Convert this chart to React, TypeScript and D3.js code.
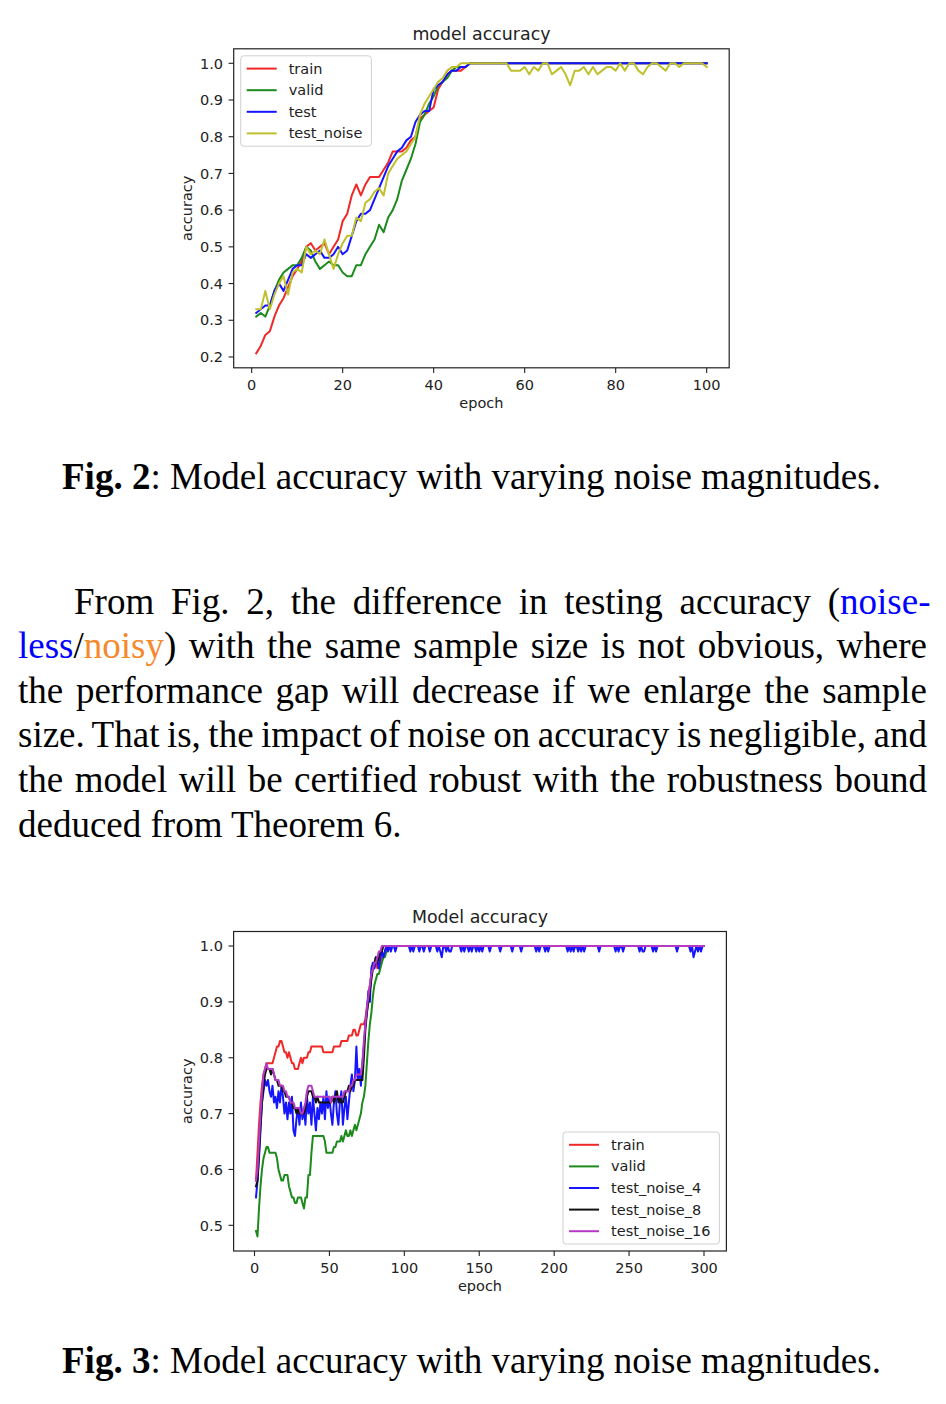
import React, { useRef, useLayoutEffect } from 'react';
import * as d3 from 'd3';

// ── Fig. 2 data: accuracy per epoch (1..100) ─────────────────────────────────
const fig2Train = [
  0.21, 0.23, 0.26, 0.27, 0.31, 0.34, 0.36, 0.39, 0.42, 0.44,
  0.46, 0.50, 0.51, 0.49, 0.50, 0.51, 0.48, 0.50, 0.52, 0.57,
  0.59, 0.64, 0.67, 0.64, 0.67, 0.69, 0.69, 0.69, 0.71, 0.73,
  0.76, 0.76, 0.76, 0.77, 0.79, 0.80, 0.85, 0.86, 0.87, 0.88,
  0.93, 0.95, 0.97, 0.98, 0.98, 0.98, 0.99, 1, 1, 1,
  1, 1, 1, 1, 1, 1, 1, 1, 1, 1,
  1, 1, 1, 1, 1, 1, 1, 1, 1, 1,
  1, 1, 1, 1, 1, 1, 1, 1, 1, 1,
  1, 1, 1, 1, 1, 1, 1, 1, 1, 1,
  1, 1, 1, 1, 1, 1, 1, 1, 1, 1,
];
const fig2Valid = [
  0.31, 0.32, 0.31, 0.34, 0.38, 0.41, 0.43, 0.44, 0.45, 0.45,
  0.47, 0.50, 0.49, 0.46, 0.44, 0.45, 0.46, 0.45, 0.45, 0.43,
  0.42, 0.42, 0.45, 0.45, 0.48, 0.50, 0.52, 0.56, 0.54, 0.58,
  0.60, 0.63, 0.68, 0.71, 0.74, 0.78, 0.84, 0.86, 0.89, 0.91,
  0.94, 0.95, 0.96, 0.98, 0.99, 0.99, 0.99, 1, 1, 1,
  1, 1, 1, 1, 1, 1, 1, 1, 1, 1,
  1, 1, 1, 1, 1, 1, 1, 1, 1, 1,
  1, 1, 1, 1, 1, 1, 1, 1, 1, 1,
  1, 1, 1, 1, 1, 1, 1, 1, 1, 1,
  1, 1, 1, 1, 1, 1, 1, 1, 1, 1,
];
const fig2Test = [
  0.32, 0.33, 0.34, 0.34, 0.38, 0.40, 0.38, 0.41, 0.44, 0.45,
  0.45, 0.48, 0.47, 0.48, 0.49, 0.47, 0.47, 0.48, 0.50, 0.48,
  0.49, 0.53, 0.57, 0.59, 0.59, 0.60, 0.63, 0.66, 0.69, 0.72,
  0.74, 0.76, 0.77, 0.79, 0.80, 0.84, 0.86, 0.87, 0.87, 0.93,
  0.94, 0.95, 0.97, 0.98, 0.98, 0.99, 0.99, 1, 1, 1,
  1, 1, 1, 1, 1, 1, 1, 1, 1, 1,
  1, 1, 1, 1, 1, 1, 1, 1, 1, 1,
  1, 1, 1, 1, 1, 1, 1, 1, 1, 1,
  1, 1, 1, 1, 1, 1, 1, 1, 1, 1,
  1, 1, 1, 1, 1, 1, 1, 1, 1, 1,
];
const fig2TestNoise = [
  0.33, 0.33, 0.38, 0.33, 0.37, 0.40, 0.42, 0.37, 0.43, 0.44,
  0.43, 0.50, 0.48, 0.49, 0.48, 0.52, 0.48, 0.44, 0.48, 0.51,
  0.53, 0.53, 0.58, 0.57, 0.62, 0.63, 0.65, 0.66, 0.64, 0.70,
  0.72, 0.74, 0.75, 0.76, 0.78, 0.80, 0.86, 0.89, 0.91, 0.93,
  0.95, 0.96, 0.98, 0.99, 0.99, 1, 1, 1, 1, 1,
  1, 1, 1, 1, 1, 1, 0.98, 0.98, 0.98, 0.99,
  0.97, 0.99, 0.98, 1, 1, 0.97, 0.98, 0.99, 0.97, 0.94,
  0.98, 0.98, 0.99, 0.97, 0.99, 0.97, 0.98, 0.99, 0.99, 0.98,
  1, 0.98, 1, 1, 0.98, 0.97, 0.99, 1, 1, 0.99,
  0.98, 1, 1, 0.99, 1, 1, 1, 1, 1, 0.99,
];
const fig2XTicks = [0, 20, 40, 60, 80, 100];
const fig2YTicks = [0.2, 0.3, 0.4, 0.5, 0.6, 0.7, 0.8, 0.9, 1.0];

// ── Fig. 3 data: accuracy per epoch (1..300) ─────────────────────────────────
const fig3Train = [
  0.58, 0.63, 0.68, 0.72, 0.75, 0.77, 0.78, 0.79, 0.79, 0.79,
  0.79, 0.79, 0.80, 0.81, 0.82, 0.82, 0.83, 0.83, 0.82, 0.81,
  0.81, 0.80, 0.81, 0.80, 0.79, 0.79, 0.78, 0.78, 0.78, 0.79,
  0.80, 0.79, 0.80, 0.80, 0.80, 0.81, 0.81, 0.82, 0.82, 0.82,
  0.82, 0.82, 0.82, 0.82, 0.82, 0.81, 0.81, 0.81, 0.81, 0.81,
  0.81, 0.81, 0.82, 0.82, 0.82, 0.82, 0.82, 0.83, 0.83, 0.83,
  0.83, 0.83, 0.84, 0.84, 0.84, 0.85, 0.85, 0.84, 0.84, 0.85,
  0.86, 0.86, 0.86, 0.87, 0.89, 0.91, 0.93, 0.95, 0.96, 0.96,
  0.97, 0.96, 0.96, 0.97, 0.98, 0.98, 0.99, 1, 1, 1,
  1, 1, 1, 1, 1, 1, 1, 1, 1, 1,
  1, 1, 1, 1, 1, 1, 1, 1, 1, 1,
  1, 1, 1, 1, 1, 1, 1, 1, 1, 1,
  1, 1, 1, 1, 1, 1, 1, 1, 1, 1,
  1, 1, 1, 1, 1, 1, 1, 1, 1, 1,
  1, 1, 1, 1, 1, 1, 1, 1, 1, 1,
  1, 1, 1, 1, 1, 1, 1, 1, 1, 1,
  1, 1, 1, 1, 1, 1, 1, 1, 1, 1,
  1, 1, 1, 1, 1, 1, 1, 1, 1, 1,
  1, 1, 1, 1, 1, 1, 1, 1, 1, 1,
  1, 1, 1, 1, 1, 1, 1, 1, 1, 1,
  1, 1, 1, 1, 1, 1, 1, 1, 1, 1,
  1, 1, 1, 1, 1, 1, 1, 1, 1, 1,
  1, 1, 1, 1, 1, 1, 1, 1, 1, 1,
  1, 1, 1, 1, 1, 1, 1, 1, 1, 1,
  1, 1, 1, 1, 1, 1, 1, 1, 1, 1,
  1, 1, 1, 1, 1, 1, 1, 1, 1, 1,
  1, 1, 1, 1, 1, 1, 1, 1, 1, 1,
  1, 1, 1, 1, 1, 1, 1, 1, 1, 1,
  1, 1, 1, 1, 1, 1, 1, 1, 1, 1,
  1, 1, 1, 1, 1, 1, 1, 1, 1, 1,
];
const fig3Valid = [
  0.49, 0.48, 0.53, 0.57, 0.60, 0.62, 0.63, 0.64, 0.64, 0.63,
  0.63, 0.63, 0.63, 0.63, 0.62, 0.60, 0.59, 0.58, 0.58, 0.59,
  0.59, 0.59, 0.57, 0.56, 0.55, 0.55, 0.54, 0.54, 0.55, 0.55,
  0.55, 0.54, 0.53, 0.55, 0.55, 0.59, 0.59, 0.63, 0.66, 0.66,
  0.66, 0.66, 0.66, 0.66, 0.66, 0.66, 0.65, 0.63, 0.63, 0.63,
  0.63, 0.63, 0.64, 0.64, 0.65, 0.65, 0.65, 0.66, 0.65, 0.66,
  0.67, 0.66, 0.66, 0.67, 0.66, 0.67, 0.68, 0.67, 0.68, 0.69,
  0.70, 0.72, 0.73, 0.75, 0.79, 0.83, 0.86, 0.88, 0.91, 0.93,
  0.94, 0.95, 0.95, 0.96, 0.97, 0.98, 0.98, 0.99, 1, 1,
  1, 1, 1, 1, 1, 1, 1, 1, 1, 1,
  1, 1, 1, 1, 1, 1, 1, 1, 1, 1,
  1, 1, 1, 1, 1, 1, 1, 1, 1, 1,
  1, 1, 1, 1, 1, 1, 1, 1, 1, 1,
  1, 1, 1, 1, 1, 1, 1, 1, 1, 1,
  1, 1, 1, 1, 1, 1, 1, 1, 1, 1,
  1, 1, 1, 1, 1, 1, 1, 1, 1, 1,
  1, 1, 1, 1, 1, 1, 1, 1, 1, 1,
  1, 1, 1, 1, 1, 1, 1, 1, 1, 1,
  1, 1, 1, 1, 1, 1, 1, 1, 1, 1,
  1, 1, 1, 1, 1, 1, 1, 1, 1, 1,
  1, 1, 1, 1, 1, 1, 1, 1, 1, 1,
  1, 1, 1, 1, 1, 1, 1, 1, 1, 1,
  1, 1, 1, 1, 1, 1, 1, 1, 1, 1,
  1, 1, 1, 1, 1, 1, 1, 1, 1, 1,
  1, 1, 1, 1, 1, 1, 1, 1, 1, 1,
  1, 1, 1, 1, 1, 1, 1, 1, 1, 1,
  1, 1, 1, 1, 1, 1, 1, 1, 1, 1,
  1, 1, 1, 1, 1, 1, 1, 1, 1, 1,
  1, 1, 1, 1, 1, 1, 1, 1, 1, 1,
  1, 1, 1, 1, 1, 1, 1, 1, 1, 1,
];
const fig3Noise4 = [
  0.55, 0.58, 0.62, 0.67, 0.72, 0.74, 0.76, 0.75, 0.76, 0.74,
  0.73, 0.75, 0.72, 0.73, 0.71, 0.74, 0.72, 0.75, 0.73, 0.70,
  0.72, 0.69, 0.72, 0.70, 0.73, 0.67, 0.66, 0.69, 0.71, 0.68,
  0.72, 0.69, 0.71, 0.68, 0.73, 0.70, 0.72, 0.68, 0.73, 0.70,
  0.67, 0.71, 0.69, 0.72, 0.70, 0.73, 0.69, 0.74, 0.71, 0.73,
  0.70, 0.68, 0.72, 0.74, 0.70, 0.68, 0.72, 0.74, 0.68, 0.71,
  0.73, 0.69, 0.72, 0.75, 0.77, 0.74, 0.76, 0.82, 0.76, 0.78,
  0.75, 0.79, 0.82, 0.86, 0.88, 0.92, 0.90, 0.96, 0.97, 0.96,
  0.98, 0.97, 0.96, 0.98, 0.99, 0.98, 0.99, 1, 0.99, 1,
  0.99, 1, 1, 0.99, 1, 1, 1, 1, 1, 1,
  1, 1, 1, 0.99, 1, 0.99, 1, 1, 1, 0.99,
  1, 1, 0.99, 1, 1, 1, 0.99, 1, 1, 1,
  1, 0.99, 1, 0.99, 0.98, 1, 1, 0.99, 1, 0.99,
  0.99, 1, 1, 1, 1, 1, 1, 0.99, 1, 0.99,
  1, 1, 0.99, 1, 0.99, 1, 1, 0.99, 1, 0.99,
  1, 0.99, 1, 1, 1, 1, 0.99, 1, 1, 1,
  1, 1, 1, 0.99, 1, 1, 1, 1, 1, 1,
  1, 0.99, 1, 1, 1, 1, 1, 0.99, 1, 1,
  1, 1, 1, 1, 1, 1, 1, 0.99, 1, 0.99,
  1, 1, 1, 0.99, 1, 0.99, 1, 1, 1, 1,
  1, 1, 1, 1, 1, 1, 1, 1, 0.99, 1,
  0.99, 1, 0.99, 1, 1, 0.99, 1, 0.99, 1, 0.99,
  1, 1, 1, 1, 1, 1, 1, 1, 1, 0.99,
  1, 1, 1, 1, 1, 1, 1, 1, 1, 1,
  0.99, 1, 0.99, 1, 1, 0.99, 1, 1, 1, 1,
  1, 1, 1, 1, 1, 1, 0.99, 1, 0.99, 0.99,
  1, 1, 1, 1, 1, 0.99, 1, 0.99, 1, 1,
  1, 1, 1, 1, 1, 1, 1, 1, 1, 1,
  1, 0.99, 1, 1, 1, 1, 1, 1, 1, 1,
  0.99, 1, 0.98, 0.99, 1, 0.99, 1, 0.99, 1, 1,
];
const fig3Noise8 = [
  0.57, 0.58, 0.63, 0.68, 0.72, 0.75, 0.77, 0.78, 0.78, 0.78,
  0.77, 0.78, 0.77, 0.76, 0.76, 0.75, 0.75, 0.75, 0.74, 0.74,
  0.73, 0.73, 0.73, 0.72, 0.72, 0.71, 0.71, 0.70, 0.71, 0.70,
  0.70, 0.70, 0.70, 0.71, 0.73, 0.74, 0.74, 0.74, 0.73, 0.73,
  0.72, 0.73, 0.72, 0.72, 0.72, 0.72, 0.72, 0.72, 0.72, 0.72,
  0.72, 0.73, 0.72, 0.73, 0.74, 0.72, 0.73, 0.72, 0.72, 0.73,
  0.74, 0.74, 0.75, 0.74, 0.75, 0.75, 0.76, 0.76, 0.76, 0.76,
  0.76, 0.76, 0.80, 0.85, 0.88, 0.90, 0.92, 0.94, 0.96, 0.97,
  0.98, 0.97, 0.98, 0.99, 0.99, 1, 1, 1, 1, 1,
  1, 1, 1, 1, 1, 1, 1, 1, 1, 1,
  1, 1, 1, 1, 1, 1, 1, 1, 1, 1,
  1, 1, 1, 1, 1, 1, 1, 1, 1, 1,
  1, 1, 1, 1, 1, 1, 1, 1, 1, 1,
  1, 1, 1, 1, 1, 1, 1, 1, 1, 1,
  1, 1, 1, 1, 1, 1, 1, 1, 1, 1,
  1, 1, 1, 1, 1, 1, 1, 1, 1, 1,
  1, 1, 1, 1, 1, 1, 1, 1, 1, 1,
  1, 1, 1, 1, 1, 1, 1, 1, 1, 1,
  1, 1, 1, 1, 1, 1, 1, 1, 1, 1,
  1, 1, 1, 1, 1, 1, 1, 1, 1, 1,
  1, 1, 1, 1, 1, 1, 1, 1, 1, 1,
  1, 1, 1, 1, 1, 1, 1, 1, 1, 1,
  1, 1, 1, 1, 1, 1, 1, 1, 1, 1,
  1, 1, 1, 1, 1, 1, 1, 1, 1, 1,
  1, 1, 1, 1, 1, 1, 1, 1, 1, 1,
  1, 1, 1, 1, 1, 1, 1, 1, 1, 1,
  1, 1, 1, 1, 1, 1, 1, 1, 1, 1,
  1, 1, 1, 1, 1, 1, 1, 1, 1, 1,
  1, 1, 1, 1, 1, 1, 1, 1, 1, 1,
  1, 1, 1, 1, 1, 1, 1, 1, 1, 1,
];
const fig3Noise16 = [
  0.58, 0.60, 0.65, 0.70, 0.74, 0.77, 0.78, 0.79, 0.78, 0.78,
  0.78, 0.78, 0.77, 0.76, 0.76, 0.76, 0.75, 0.75, 0.75, 0.74,
  0.74, 0.73, 0.73, 0.72, 0.72, 0.72, 0.71, 0.71, 0.71, 0.71,
  0.70, 0.70, 0.71, 0.72, 0.74, 0.75, 0.75, 0.75, 0.74, 0.73,
  0.73, 0.73, 0.73, 0.73, 0.73, 0.73, 0.73, 0.73, 0.73, 0.73,
  0.72, 0.73, 0.73, 0.73, 0.73, 0.73, 0.73, 0.73, 0.73, 0.74,
  0.74, 0.74, 0.74, 0.75, 0.75, 0.76, 0.76, 0.77, 0.77, 0.77,
  0.77, 0.79, 0.83, 0.86, 0.89, 0.91, 0.93, 0.95, 0.96, 0.97,
  0.97, 0.98, 0.99, 0.99, 1, 1, 1, 1, 1, 1,
  1, 1, 1, 1, 1, 1, 1, 1, 1, 1,
  1, 1, 1, 1, 1, 1, 1, 1, 1, 1,
  1, 1, 1, 1, 1, 1, 1, 1, 1, 1,
  1, 1, 1, 1, 1, 1, 1, 1, 1, 1,
  1, 1, 1, 1, 1, 1, 1, 1, 1, 1,
  1, 1, 1, 1, 1, 1, 1, 1, 1, 1,
  1, 1, 1, 1, 1, 1, 1, 1, 1, 1,
  1, 1, 1, 1, 1, 1, 1, 1, 1, 1,
  1, 1, 1, 1, 1, 1, 1, 1, 1, 1,
  1, 1, 1, 1, 1, 1, 1, 1, 1, 1,
  1, 1, 1, 1, 1, 1, 1, 1, 1, 1,
  1, 1, 1, 1, 1, 1, 1, 1, 1, 1,
  1, 1, 1, 1, 1, 1, 1, 1, 1, 1,
  1, 1, 1, 1, 1, 1, 1, 1, 1, 1,
  1, 1, 1, 1, 1, 1, 1, 1, 1, 1,
  1, 1, 1, 1, 1, 1, 1, 1, 1, 1,
  1, 1, 1, 1, 1, 1, 1, 1, 1, 1,
  1, 1, 1, 1, 1, 1, 1, 1, 1, 1,
  1, 1, 1, 1, 1, 1, 1, 1, 1, 1,
  1, 1, 1, 1, 1, 1, 1, 1, 1, 1,
  1, 1, 1, 1, 1, 1, 1, 1, 1, 1,
];
const fig3XTicks = [0, 50, 100, 150, 200, 250, 300];
const fig3YTicks = [0.5, 0.6, 0.7, 0.8, 0.9, 1.0];

// ── Body text ────────────────────────────────────────────────────────────────
const BLUE_TEXT = '#0000ff';
const ORANGE_TEXT = '#f5892c';
const INK = '#000';
type Part = [string, string];
const paragraphLines: Part[][] = [
  [['From Fig. 2, the difference in testing accuracy (', INK], ['noise-', BLUE_TEXT]],
  [['less', BLUE_TEXT], ['/', INK], ['noisy', ORANGE_TEXT], [') with the same sample size is not obvious, where', INK]],
  [['the performance gap will decrease if we enlarge the sample', INK]],
  [['size. That is, the impact of noise on accuracy is negligible, and', INK]],
  [['the model will be certified robust with the robustness bound', INK]],
  [['deduced from Theorem 6.', INK]],
];
const captionText = ': Model accuracy with varying noise magnitudes.';

// ── Layout ───────────────────────────────────────────────────────────────────
const W = 946;
const H = 1404;
const SANS = "'DejaVu Sans', Verdana, sans-serif";
const SERIF = "'Liberation Serif', 'Times New Roman', Times, serif";
const FS = 14.5; // matplotlib 10pt at this scale
const TEXT_FS = 37;
const LINE_H = 44.6;
const PARA_TOP = 613.5; // baseline of first paragraph line
const PARA_LEFT = 18;
const PARA_RIGHT = 927;

const COLORS = {
  train: '#f02828',
  valid: '#1d8a1d',
  blue: '#1515ff',
  olive: '#c0bf2c',
  black: '#111111',
  magenta: '#b43ac6',
};

interface Series {
  name: string;
  color: string;
  values: number[];
}

interface Box {
  left: number;
  right: number;
  top: number;
  bottom: number;
}

interface ChartProps {
  title: string;
  series: Series[];
  xTicks: number[];
  yTicks: number[];
  box: Box;
  legendAt: 'upper left' | 'lower right';
}

let measureCtx: CanvasRenderingContext2D | null = null;
function textWidth(s: string, font: string) {
  if (!measureCtx) measureCtx = document.createElement('canvas').getContext('2d');
  if (!measureCtx) return s.length * 8;
  measureCtx.font = font;
  return measureCtx.measureText(s).width;
}

function AccuracyChart({ title, series, xTicks, yTicks, box, legendAt }: ChartProps) {
  // matplotlib-style autoscale: 5 % margin on both axes
  const n = d3.max(series, (s) => s.values.length) ?? 1;
  const xPad = (n - 1) * 0.05;
  const x = d3.scaleLinear().domain([1 - xPad, n + xPad]).range([box.left, box.right]);
  const lo = d3.min(series, (s) => d3.min(s.values)) ?? 0;
  const hi = d3.max(series, (s) => d3.max(s.values)) ?? 1;
  const yPad = (hi - lo) * 0.05;
  const y = d3.scaleLinear().domain([lo - yPad, hi + yPad]).range([box.bottom, box.top]);

  const line = d3
    .line<number>()
    .x((_, i) => x(i + 1))
    .y((v) => y(v));

  const fmtY = d3.format('.1f');
  const tick = 5.1;
  const cx = (box.left + box.right) / 2;
  const cy = (box.top + box.bottom) / 2;

  // Legend geometry
  const rowGap = 21.6;
  const padY = 12.8;
  const legW = 48 + (d3.max(series, (s) => textWidth(s.name, `${FS}px ${SANS}`)) ?? 60) + 9;
  const legH = padY * 2 + (series.length - 1) * rowGap;
  const legX = legendAt === 'upper left' ? box.left + 7 : box.right - 7 - legW;
  const legY = legendAt === 'upper left' ? box.top + 7 : box.bottom - 7 - legH;

  return (
    <g fontFamily={SANS} fill="#222">
      {/* Title */}
      <text x={cx} y={box.top - 8.6} textAnchor="middle" fontSize={FS * 1.2}>
        {title}
      </text>

      {/* Series */}
      {series.map((s) => (
        <path
          key={s.name}
          d={line(s.values) ?? ''}
          fill="none"
          stroke={s.color}
          strokeWidth={2}
          strokeLinejoin="round"
          strokeLinecap="square"
        />
      ))}

      {/* Frame */}
      <rect
        x={box.left}
        y={box.top}
        width={box.right - box.left}
        height={box.bottom - box.top}
        fill="none"
        stroke="#222"
        strokeWidth={1.2}
      />

      {/* X ticks */}
      {xTicks.map((t) => (
        <g key={`x${t}`}>
          <line x1={x(t)} x2={x(t)} y1={box.bottom} y2={box.bottom + tick} stroke="#222" strokeWidth={1.1} />
          <text x={x(t)} y={box.bottom + 22} textAnchor="middle" fontSize={FS}>
            {t}
          </text>
        </g>
      ))}

      {/* Y ticks */}
      {yTicks.map((t) => (
        <g key={`y${t}`}>
          <line x1={box.left - tick} x2={box.left} y1={y(t)} y2={y(t)} stroke="#222" strokeWidth={1.1} />
          <text x={box.left - tick - 5.6} y={y(t)} dy="0.36em" textAnchor="end" fontSize={FS}>
            {fmtY(t)}
          </text>
        </g>
      ))}

      {/* Axis labels */}
      <text x={cx} y={box.bottom + 40} textAnchor="middle" fontSize={FS}>
        epoch
      </text>
      <text transform={`translate(${box.left - 41.5},${cy}) rotate(-90)`} textAnchor="middle" fontSize={FS}>
        accuracy
      </text>

      {/* Legend */}
      <rect
        x={legX}
        y={legY}
        width={legW}
        height={legH}
        rx={3}
        fill="#fff"
        fillOpacity={0.85}
        stroke="#d0d0d0"
        strokeWidth={1}
      />
      {series.map((s, i) => {
        const ry = legY + padY + i * rowGap;
        return (
          <g key={`leg${s.name}`}>
            <line x1={legX + 6} x2={legX + 36} y1={ry} y2={ry} stroke={s.color} strokeWidth={2} />
            <text x={legX + 48} y={ry + 5} fontSize={FS}>
              {s.name}
            </text>
          </g>
        );
      })}
    </g>
  );
}

// A line of body text whose word gaps are stretched to a given width
function JustifiedLine({ x, y, width, parts }: { x: number; y: number; width?: number; parts: Part[] }) {
  const ref = useRef<SVGTextElement>(null);

  useLayoutEffect(() => {
    const el = ref.current;
    if (!el || width === undefined) return;
    const fit = () => {
      el.style.wordSpacing = '0px';
      const natural = el.getComputedTextLength();
      const gaps = ((el.textContent ?? '').match(/ /g) || []).length;
      if (gaps > 0) el.style.wordSpacing = `${(width - natural) / gaps}px`;
    };
    fit();
    (document as any).fonts?.ready?.then(fit);
  }, [width, parts]);

  return (
    <text ref={ref} x={x} y={y} fontFamily={SERIF} fontSize={TEXT_FS} style={{ whiteSpace: 'pre' }}>
      {parts.map(([t, c], i) => (
        <tspan key={i} fill={c}>
          {t}
        </tspan>
      ))}
    </text>
  );
}

function Caption({ y, label }: { y: number; label: string }) {
  return (
    <text x={62} y={y} fontFamily={SERIF} fontSize={TEXT_FS} fill="#000" style={{ whiteSpace: 'pre' }}>
      <tspan fontWeight="bold">{label}</tspan>
      <tspan>{captionText}</tspan>
    </text>
  );
}

export default function App() {
  const fig2Series: Series[] = [
    { name: 'train', color: COLORS.train, values: fig2Train },
    { name: 'valid', color: COLORS.valid, values: fig2Valid },
    { name: 'test', color: COLORS.blue, values: fig2Test },
    { name: 'test_noise', color: COLORS.olive, values: fig2TestNoise },
  ];
  const fig3Series: Series[] = [
    { name: 'train', color: COLORS.train, values: fig3Train },
    { name: 'valid', color: COLORS.valid, values: fig3Valid },
    { name: 'test_noise_4', color: COLORS.blue, values: fig3Noise4 },
    { name: 'test_noise_8', color: COLORS.black, values: fig3Noise8 },
    { name: 'test_noise_16', color: COLORS.magenta, values: fig3Noise16 },
  ];

  return (
    <div style={{ position: 'absolute', left: 0, top: 0, width: W, height: H, background: '#fff' }}>
      <svg width={W} height={H} style={{ display: 'block' }}>
        <rect width={W} height={H} fill="#fff" />

        <AccuracyChart
          title="model accuracy"
          series={fig2Series}
          xTicks={fig2XTicks}
          yTicks={fig2YTicks}
          box={{ left: 233.7, right: 729.2, top: 48.8, bottom: 367.8 }}
          legendAt="upper left"
        />
        <Caption y={489.3} label="Fig. 2" />

        {paragraphLines.map((parts, i) => {
          const last = i === paragraphLines.length - 1;
          const left = i === 0 ? 74 : PARA_LEFT;
          const right = i === 0 ? 930.5 : PARA_RIGHT;
          return (
            <JustifiedLine
              key={i}
              x={left}
              y={PARA_TOP + i * LINE_H}
              width={last ? undefined : right - left}
              parts={parts}
            />
          );
        })}

        <AccuracyChart
          title="Model accuracy"
          series={fig3Series}
          xTicks={fig3XTicks}
          yTicks={fig3YTicks}
          box={{ left: 233.6, right: 726.4, top: 931.5, bottom: 1251 }}
          legendAt="lower right"
        />
        <Caption y={1372.5} label="Fig. 3" />
      </svg>
    </div>
  );
}
